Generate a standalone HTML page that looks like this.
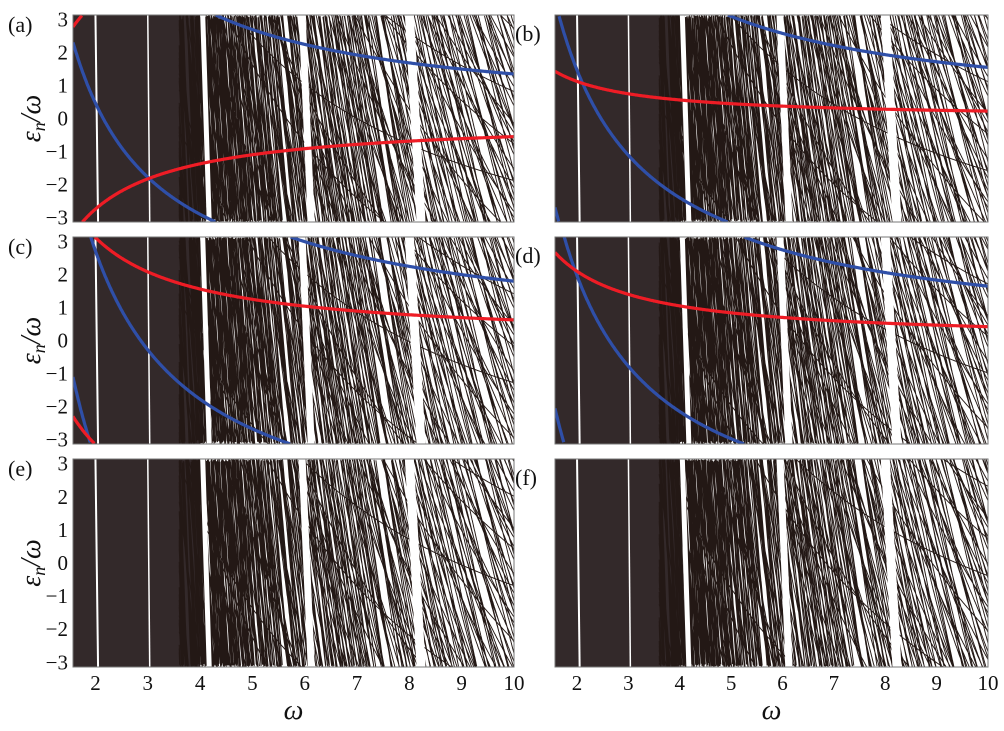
<!DOCTYPE html>
<html><head><meta charset="utf-8">
<style>
html,body{margin:0;padding:0;background:#fff;}
svg{display:block;font-family:"Liberation Serif",serif;}
</style></head>
<body>
<svg id="fig" width="1004" height="731" viewBox="0 0 1004 731" xmlns="http://www.w3.org/2000/svg"></svg>
<script>
// ---- data ----
const panelLabels = ["(a)","(b)","(c)","(d)","(e)","(f)"];
const xTicks = [2,3,4,5,6,7,8,9,10];
const yTicks = [3,2,1,0,-1,-2,-3];
// quasi-energy background levels (energy values)
const levels = [223,236,247,261,270,284,293,307,318,327,341,352,366,374,389,398,413,421,437,446,459,471,483,494,508,517,531,542,556,563,578,589,601,612,625,44,71,118,153,187];
// highlighted curves: coefficient A in eps/omega = A/omega (wrapped to [-pi,pi])
const blueA = [13.5,15.5,18,16.5,null,null];
const redA  = [-5.5,2.25,6.25,4.2,null,null];
// white gap bands (omega positions)
const gaps = [2.0,3.0,4.05,5.95,8.0];
const gapW = [2,1.5,5,7,9];

const W0 = Math.PI/2, W1 = 10, PI = Math.PI;
const cols = [{x0:73,x1:514},{x0:555,x1:988}];
const rows = [{y0:15,y1:222},{y0:237,y1:444},{y0:459,y1:667}];
const NS = "http://www.w3.org/2000/svg";
const svg = document.getElementById('fig');
function mk(tag, attrs, parent){const e=document.createElementNS(NS,tag);for(const k in attrs)e.setAttribute(k,attrs[k]);(parent||svg).appendChild(e);return e;}
function wrap(v){return ((v+PI)%(2*PI)+2*PI)%(2*PI)-PI;}

const defs = mk('defs',{});
for(let p=0;p<6;p++){
  const c=cols[p%2], r=rows[Math.floor(p/2)];
  const xs = w => c.x0 + (w-W0)/(W1-W0)*(c.x1-c.x0);
  const ys = v => r.y0 + (PI - v)/(2*PI)*(r.y1-r.y0);
  const cp = mk('clipPath',{id:'clip'+p},defs);
  mk('rect',{x:c.x0,y:r.y0,width:c.x1-c.x0,height:r.y1-r.y0},cp);
  const g = mk('g',{'clip-path':'url(#clip'+p+')'});
  
  
  const dark = mk('rect',{x:c.x0,y:r.y0,width:xs(4.0)-c.x0,height:r.y1-r.y0,fill:'#33292a'},g);
  
  
  let d='';
  const off = p*3;
  for(const E0 of levels){
    const E=E0+off;
    let prev=null;
    for(let w=3.6; w<=W1+0.001; w+=0.004){
      const v=wrap(E/w);
      if(prev===null || Math.abs(v-prev)>PI){ d+='M'+xs(w).toFixed(1)+' '+ys(v).toFixed(1); }
      else d+='L'+xs(w).toFixed(1)+' '+ys(v).toFixed(1);
      prev=v;
    }
  }
  const bg = mk('path',{d:d,fill:'none',stroke:'#231815','stroke-width':0.95},g);
  
  
  gaps.forEach((gw,i)=>{
    const xT=xs(gw)-gapW[i]*0.5, xB=xs(gw)+gapW[i]*0.8;
    const poly=mk('polygon',{points:`${xT},${r.y0} ${xT+gapW[i]},${r.y0} ${xB+gapW[i]},${r.y1} ${xB},${r.y1}`,fill:'#fff'},g);
    
    
  });
  [[blueA[p],'#2f4fa8','blue-curve'],[redA[p],'#ee1c25','red-curve']].forEach(([A,col,nm])=>{
    if(A===null) return;
    let dd='',prev=null;
    for(let w=W0; w<=W1+0.001; w+=0.01){
      const v=wrap(A/w);
      if(prev===null||Math.abs(v-prev)>PI) dd+='M'+xs(w).toFixed(1)+' '+ys(v).toFixed(1);
      else dd+='L'+xs(w).toFixed(1)+' '+ys(v).toFixed(1);
      prev=v;
    }
    const pth=mk('path',{d:dd,fill:'none',stroke:col,'stroke-width':3.2},g);
    
    
  });
  const fr=mk('rect',{x:c.x0,y:r.y0,width:c.x1-c.x0,height:r.y1-r.y0,fill:'none',stroke:'#777','stroke-width':1});
  
  
  const lx = p%2===0 ? 8 : 515;
  const ly = p%2===0 ? r.y0+17 : r.y0+26;
  const lb=mk('text',{x:lx,y:ly,'font-size':22,fill:'#111'});
  lb.textContent=panelLabels[p];
  
  
  if(p%2===0){
    yTicks.forEach(t=>{
      const tx=mk('text',{x:c.x0-5,y:ys(t)+7,'font-size':21,'text-anchor':'end',fill:'#111'});
      tx.textContent = t<0 ? '\u2212'+(-t) : String(t);
      
      
    });
    const yt=mk('text',{x:0,y:0,'font-size':28,'font-style':'italic','text-anchor':'middle',fill:'#111',transform:`translate(40 ${(r.y0+r.y1)/2}) rotate(-90)`});
    yt.innerHTML='ε<tspan font-size="18" dy="5">n</tspan><tspan dy="-5">/ω</tspan>';
    
    
  }
  if(Math.floor(p/2)===2){
    xTicks.forEach(t=>{
      const tx=mk('text',{x:xs(t),y:r.y1+23,'font-size':21,'text-anchor':'middle',fill:'#111'});
      tx.textContent=String(t);
      
      
    });
    const xt=mk('text',{x:(c.x0+c.x1)/2,y:r.y1+52,'font-size':28,'font-style':'italic','text-anchor':'middle',fill:'#111'});
    xt.textContent='ω';
    
    
  }
}
</script>
</body></html>
